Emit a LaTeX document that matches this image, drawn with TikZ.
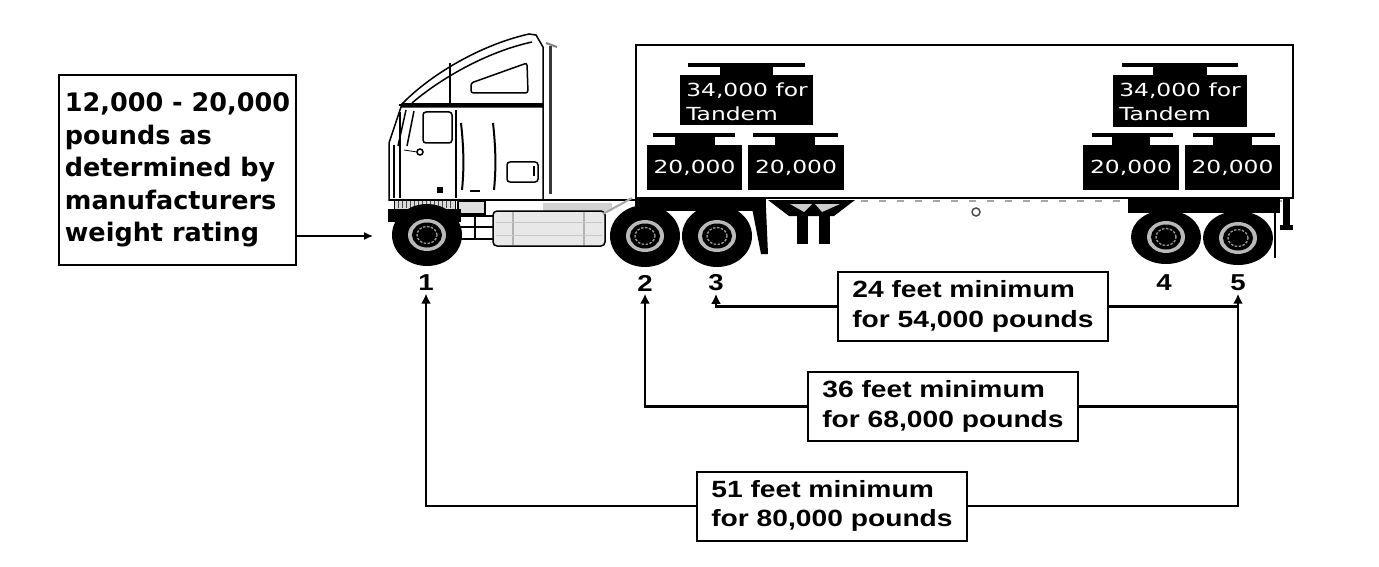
\documentclass[tikz,border=0pt]{standalone}
\usepackage{fontspec}
\setmainfont{DejaVu Sans}
\newfontfamily\vfont{DejaVu Sans}
\newfontfamily\boxfont[FakeStretch=1.2]{Liberation Sans}
\newfontfamily\platefont[FakeStretch=1.3]{DejaVu Sans}
\usetikzlibrary{arrows.meta}
\tikzset{
  infobox/.style={draw, line width=1.8pt, fill=white, align=left,
    font=\vfont\fontsize{25.5}{32.5}\selectfont\bfseries,
    minimum width=237pt, minimum height=190pt, inner sep=4pt},
  distbox/.style={draw, line width=2pt, fill=white, align=left,
    font=\boxfont\fontsize{23.5}{29.5}\selectfont\bfseries,
    minimum width=270pt, minimum height=69pt, inner sep=4pt},
  axle/.style={font=\boxfont\fontsize{23}{26}\selectfont\bfseries, inner sep=2.5pt},
  platetext/.style={text=white, font=\platefont\fontsize{18}{24}\selectfont, align=left, inner sep=0pt},
  dim/.style={line width=2.5pt, -{Latex[length=10pt,width=10pt]}},
  dimline/.style={line width=2.5pt},
  truck/.style={line width=1.5pt},
  hub/.style={fill=gray!55},
}
\begin{document}
\begin{tikzpicture}[x=1pt,y=-1pt]
\useasboundingbox (0,0) rectangle (1379,567);
\fill[white] (0,0) rectangle (1379,567);

% ---------------- trailer ----------------
\draw[line width=2pt, fill=white] (636,45) rectangle (1293,198);
\draw[line width=2pt] (636,198) -- (636,206);
\draw[gray!70, line width=2.5pt, dash pattern=on 7pt off 11pt] (645,201) -- (1290,201);
\fill (636,199) rectangle (766,211);
\fill (752,208) -- (766,208) -- (768,254) -- (761,254) -- cycle;
\fill (768,200) -- (855,200) -- (834,216) -- (789,216) -- cycle;
\fill[gray!40] (790,204) -- (812,204) -- (804,212) -- cycle;
\fill[gray!40] (815,204) -- (840,204) -- (822,212) -- cycle;
\fill (797,214) rectangle (808,244);
\fill (819,214) rectangle (830,244);
\draw[gray!60!black, line width=1.5pt] (976,212) circle (4pt);
\fill (1128,199) rectangle (1280,213);
\draw[line width=2.5pt] (1275,208) -- (1275,258);
\fill (1283,198) rectangle (1290,229);
\fill (1280,225) rectangle (1293,230);

% ---------------- tractor ----------------
% fairing
\draw[truck, fill=white] (402,104) .. controls (430,75) and (480,45) .. (529,34) -- (536,35) -- (543,47) -- (543,104) -- cycle;
\draw[truck] (412,103) .. controls (440,79) and (486,52) .. (532,42);
\draw[truck] (450,63) -- (450,103);
\draw[truck, rounded corners=2.5pt] (471,83) -- (527,63) -- (528,93) -- (471,93) -- cycle;
% cab body
\draw[truck, fill=white] (389,200) -- (389,143) -- (401,107) -- (543,107) -- (543,200) -- cycle;
\draw[line width=2.5pt] (399,105) -- (544,105);
\draw[truck] (394,145) -- (394,198);
\draw[truck] (400,112) -- (400,198);
\draw[truck] (406,110) -- (398,146);
\draw[truck] (414,111) -- (407,146);
\draw[truck, rounded corners=3pt] (423,112) rectangle (452,143);
\draw[truck] (456,110) -- (456,198);
\draw[truck] (420,152) circle (3pt);
\draw[line width=0.8pt] (404,150) -- (417,152);
\fill (437,187) rectangle (443,193);
\draw[line width=2pt] (461,123) .. controls (464,150) and (464,170) .. (462,190);
\draw[line width=2pt] (493,123) .. controls (496,150) and (496,170) .. (494,190);
\draw[line width=1.5pt] (470,191) -- (480,191);
\draw[truck, rounded corners=3pt] (507,162) rectangle (538,182);
\draw[line width=1.5pt] (534,166) -- (534,176);
% exhaust stack
\draw[line width=3pt, gray!45!black] (550,46) -- (550,194);
\draw[line width=2pt, gray] (546,43) -- (557,47);
% cab bottom, frame
\draw[line width=2.5pt] (389,200) -- (640,200);
\fill[gray!30] (394,200) rectangle (455,209);
\draw[line width=1pt] (394,200) rectangle (455,209);
\foreach \i in {398,402,...,452} \draw[gray!60!black, line width=0.7pt] (\i,201) -- (\i,208);
\draw[truck, fill=gray!25] (458,201) rectangle (485,214);
\fill[gray!35] (543,203) rectangle (612,211);
\draw[line width=2pt] (458,216) -- (495,216);
\draw[line width=2pt] (458,227) -- (495,227);
\draw[line width=2pt] (458,239) -- (495,239);
\draw[line width=1.5pt] (475,214) -- (475,240);
% fuel tank
\draw[truck, fill=gray!18, rounded corners=4pt] (493,211) rectangle (605,246);
\draw[gray!60, line width=1.5pt] (513,212) -- (513,245);
\draw[gray!60, line width=1.5pt] (584,212) -- (584,245);
\draw[gray!45, line width=1pt] (496,222) -- (602,222);
\draw[gray!45, line width=1pt] (496,235) -- (602,235);
\draw[gray!70, line width=2pt] (603,214) -- (632,198);

% ---------------- wheels ----------------
\fill (388,209) rectangle (461,222);
\foreach \cx/\cy/\ry in {427/235/31, 645/236/31, 717/236/31, 1166/237/27, 1238/238/27} {
  \fill (\cx,\cy) ellipse [x radius=35pt, y radius=\ry pt];
  \fill[hub] (\cx,\cy) ellipse [x radius=19pt, y radius=16pt];
  \fill[black] (\cx,\cy) ellipse [x radius=15pt, y radius=12.5pt];
  \draw[gray!80, line width=1.3pt, dash pattern=on 2.5pt off 1.5pt] (\cx,\cy) ellipse [x radius=10pt, y radius=8.5pt];
  \fill[black] (\cx,\cy) ellipse [x radius=6pt, y radius=5pt];
}

% ---------------- weight plates ----------------
\foreach \bx/\by/\nx/\ny/\kx/\ky/\kX/\kY in {
  688/805/720/773/680/75/813/125,
  1122/1238/1153/1207/1113/75/1247/127} {
  \fill (\bx,63) rectangle (\by,67);
  \fill (\nx,67) rectangle (\ny,76);
  \fill (\kx,\ky) rectangle (\kX,\kY);
}
\foreach \bx/\by/\nx/\ny/\kx/\kX in {
  653/735/675/715/647/742,
  753/838/775/815/748/844,
  1092/1173/1112/1150/1083/1179,
  1193/1275/1213/1252/1185/1280} {
  \fill (\bx,133) rectangle (\by,137);
  \fill (\nx,137) rectangle (\ny,146);
  \fill (\kx,145) rectangle (\kX,190);
}
\node[platetext] (tl) at (747,102) {34,000 for\\Tandem};
\node[platetext] (tr) at (1180,102) {34,000 for\\Tandem};
\node[platetext] (pa) at (694.5,168) {20,000};
\node[platetext] (pb) at (796,168) {20,000};
\node[platetext] (pc) at (1131,168) {20,000};
\node[platetext] (pd) at (1232.5,168) {20,000};

% ---------------- labels and connectors ----------------
\node[infobox] (lb) at (177.5,170) {12,000 - 20,000\\pounds as\\determined by\\manufacturers\\weight rating};
\coordinate (cabfront) at (373,236);
\draw[line width=1.3pt, -{Latex[length=9pt,width=8pt]}] (lb.east |- cabfront) -- (cabfront);

\node[axle] (n1) at (426,283) {1};
\node[axle] (n2) at (645,283) {2};
\node[axle] (n3) at (716,283) {3};
\node[axle] (n4) at (1164,283) {4};
\node[axle] (n5) at (1238,283) {5};

\node[distbox] (b3) at (973,306.5) {24 feet minimum\\for 54,000 pounds};
\node[distbox] (b2) at (943,406.5) {36 feet minimum\\for 68,000 pounds};
\node[distbox] (b1) at (832,506) {51 feet minimum\\for 80,000 pounds};

\draw[dim] (b1.west) -| (n1.south);
\draw[dim] (b1.east) -| (n5.south);
\draw[dim] (b2.west) -| (n2.south);
\draw[dimline] (b2.east) -- (b2.east -| n5.south);
\draw[dim] (b3.west) -| (n3.south);
\draw[dimline] (b3.east) -- (b3.east -| n5.south);
\end{tikzpicture}
\end{document}
